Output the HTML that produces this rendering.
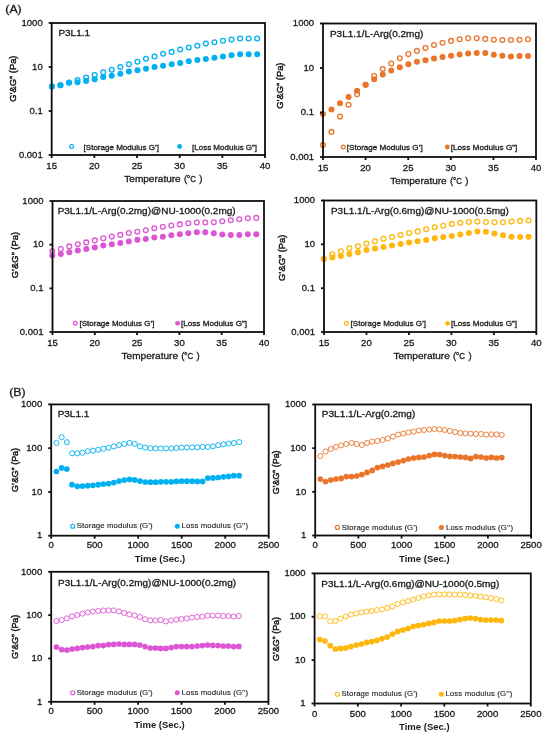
<!DOCTYPE html>
<html><head><meta charset="utf-8"><style>
html,body{margin:0;padding:0;background:#fff;}
body{width:550px;height:739px;overflow:hidden;}
svg{display:block;}
text{font-family:"Liberation Sans", sans-serif;fill:#1a1a1a;stroke:#1a1a1a;stroke-width:0.3px;}
</style></head><body>
<svg width="550" height="739" viewBox="0 0 550 739">
<defs><filter id="bl" filterUnits="userSpaceOnUse" x="0" y="0" width="550" height="739"><feGaussianBlur stdDeviation="0.45"/></filter></defs>
<rect width="550" height="739" fill="#fff"/>
<g filter="url(#bl)">
<circle cx="51.90" cy="86.50" r="2.4" fill="#fff" stroke="#00B0F0" stroke-width="1.3"/>
<circle cx="60.45" cy="85.20" r="2.4" fill="#fff" stroke="#00B0F0" stroke-width="1.3"/>
<circle cx="69.01" cy="82.50" r="2.4" fill="#fff" stroke="#00B0F0" stroke-width="1.3"/>
<circle cx="77.56" cy="80.00" r="2.4" fill="#fff" stroke="#00B0F0" stroke-width="1.3"/>
<circle cx="86.12" cy="77.50" r="2.4" fill="#fff" stroke="#00B0F0" stroke-width="1.3"/>
<circle cx="94.67" cy="75.00" r="2.4" fill="#fff" stroke="#00B0F0" stroke-width="1.3"/>
<circle cx="103.22" cy="72.30" r="2.4" fill="#fff" stroke="#00B0F0" stroke-width="1.3"/>
<circle cx="111.78" cy="69.80" r="2.4" fill="#fff" stroke="#00B0F0" stroke-width="1.3"/>
<circle cx="120.33" cy="67.00" r="2.4" fill="#fff" stroke="#00B0F0" stroke-width="1.3"/>
<circle cx="128.89" cy="64.30" r="2.4" fill="#fff" stroke="#00B0F0" stroke-width="1.3"/>
<circle cx="137.44" cy="61.80" r="2.4" fill="#fff" stroke="#00B0F0" stroke-width="1.3"/>
<circle cx="145.99" cy="58.70" r="2.4" fill="#fff" stroke="#00B0F0" stroke-width="1.3"/>
<circle cx="154.55" cy="56.50" r="2.4" fill="#fff" stroke="#00B0F0" stroke-width="1.3"/>
<circle cx="163.10" cy="53.80" r="2.4" fill="#fff" stroke="#00B0F0" stroke-width="1.3"/>
<circle cx="171.66" cy="51.90" r="2.4" fill="#fff" stroke="#00B0F0" stroke-width="1.3"/>
<circle cx="180.21" cy="49.50" r="2.4" fill="#fff" stroke="#00B0F0" stroke-width="1.3"/>
<circle cx="188.76" cy="47.50" r="2.4" fill="#fff" stroke="#00B0F0" stroke-width="1.3"/>
<circle cx="197.32" cy="45.70" r="2.4" fill="#fff" stroke="#00B0F0" stroke-width="1.3"/>
<circle cx="205.87" cy="43.60" r="2.4" fill="#fff" stroke="#00B0F0" stroke-width="1.3"/>
<circle cx="214.43" cy="42.30" r="2.4" fill="#fff" stroke="#00B0F0" stroke-width="1.3"/>
<circle cx="222.98" cy="40.70" r="2.4" fill="#fff" stroke="#00B0F0" stroke-width="1.3"/>
<circle cx="231.53" cy="39.60" r="2.4" fill="#fff" stroke="#00B0F0" stroke-width="1.3"/>
<circle cx="240.09" cy="38.50" r="2.4" fill="#fff" stroke="#00B0F0" stroke-width="1.3"/>
<circle cx="248.64" cy="38.50" r="2.4" fill="#fff" stroke="#00B0F0" stroke-width="1.3"/>
<circle cx="257.20" cy="38.50" r="2.4" fill="#fff" stroke="#00B0F0" stroke-width="1.3"/>
<circle cx="51.90" cy="86.50" r="3.0" fill="#00B0F0"/>
<circle cx="60.45" cy="85.20" r="3.0" fill="#00B0F0"/>
<circle cx="69.01" cy="82.70" r="3.0" fill="#00B0F0"/>
<circle cx="77.56" cy="82.30" r="3.0" fill="#00B0F0"/>
<circle cx="86.12" cy="81.00" r="3.0" fill="#00B0F0"/>
<circle cx="94.67" cy="79.20" r="3.0" fill="#00B0F0"/>
<circle cx="103.22" cy="77.10" r="3.0" fill="#00B0F0"/>
<circle cx="111.78" cy="75.80" r="3.0" fill="#00B0F0"/>
<circle cx="120.33" cy="73.70" r="3.0" fill="#00B0F0"/>
<circle cx="128.89" cy="71.60" r="3.0" fill="#00B0F0"/>
<circle cx="137.44" cy="70.20" r="3.0" fill="#00B0F0"/>
<circle cx="145.99" cy="68.70" r="3.0" fill="#00B0F0"/>
<circle cx="154.55" cy="67.00" r="3.0" fill="#00B0F0"/>
<circle cx="163.10" cy="65.80" r="3.0" fill="#00B0F0"/>
<circle cx="171.66" cy="64.30" r="3.0" fill="#00B0F0"/>
<circle cx="180.21" cy="63.00" r="3.0" fill="#00B0F0"/>
<circle cx="188.76" cy="61.20" r="3.0" fill="#00B0F0"/>
<circle cx="197.32" cy="60.10" r="3.0" fill="#00B0F0"/>
<circle cx="205.87" cy="59.00" r="3.0" fill="#00B0F0"/>
<circle cx="214.43" cy="57.70" r="3.0" fill="#00B0F0"/>
<circle cx="222.98" cy="56.40" r="3.0" fill="#00B0F0"/>
<circle cx="231.53" cy="55.30" r="3.0" fill="#00B0F0"/>
<circle cx="240.09" cy="54.30" r="3.0" fill="#00B0F0"/>
<circle cx="248.64" cy="54.30" r="3.0" fill="#00B0F0"/>
<circle cx="257.20" cy="54.30" r="3.0" fill="#00B0F0"/>
<rect x="51.7" y="23" width="213.30" height="132.00" fill="none" stroke="#111" stroke-width="1.8"/>
<line x1="51.70" y1="155" x2="51.70" y2="158" stroke="#111" stroke-width="1.8"/>
<line x1="94.36" y1="155" x2="94.36" y2="158" stroke="#111" stroke-width="1.8"/>
<line x1="137.02" y1="155" x2="137.02" y2="158" stroke="#111" stroke-width="1.8"/>
<line x1="179.68" y1="155" x2="179.68" y2="158" stroke="#111" stroke-width="1.8"/>
<line x1="222.34" y1="155" x2="222.34" y2="158" stroke="#111" stroke-width="1.8"/>
<line x1="265.00" y1="155" x2="265.00" y2="158" stroke="#111" stroke-width="1.8"/>
<line x1="48.7" y1="23.00" x2="51.7" y2="23.00" stroke="#111" stroke-width="1.8"/>
<line x1="48.7" y1="67.00" x2="51.7" y2="67.00" stroke="#111" stroke-width="1.8"/>
<line x1="48.7" y1="111.00" x2="51.7" y2="111.00" stroke="#111" stroke-width="1.8"/>
<line x1="48.7" y1="155.00" x2="51.7" y2="155.00" stroke="#111" stroke-width="1.8"/>
<text x="42.70" y="25.70" font-size="9.5" text-anchor="end" font-weight="normal">1000</text>
<text x="42.70" y="69.70" font-size="9.5" text-anchor="end" font-weight="normal">10</text>
<text x="42.70" y="113.70" font-size="9.5" text-anchor="end" font-weight="normal">0.1</text>
<text x="42.70" y="157.70" font-size="9.5" text-anchor="end" font-weight="normal">0.001</text>
<text x="51.70" y="168.70" font-size="9.6" text-anchor="middle" font-weight="normal">15</text>
<text x="94.36" y="168.70" font-size="9.6" text-anchor="middle" font-weight="normal">20</text>
<text x="137.02" y="168.70" font-size="9.6" text-anchor="middle" font-weight="normal">25</text>
<text x="179.68" y="168.70" font-size="9.6" text-anchor="middle" font-weight="normal">30</text>
<text x="222.34" y="168.70" font-size="9.6" text-anchor="middle" font-weight="normal">35</text>
<text x="265.00" y="168.70" font-size="9.6" text-anchor="middle" font-weight="normal">40</text>
<text x="124.30" y="181.80" font-size="9.6" text-anchor="start" font-weight="normal" textLength="56.4" lengthAdjust="spacingAndGlyphs">Temperature</text>
<text x="184.00" y="181.80" font-size="9.6" text-anchor="start" font-weight="normal">(</text>
<text x="186.70" y="181.80" font-size="9.0" text-anchor="start" font-weight="normal">°</text>
<text x="190.20" y="181.80" font-size="9.6" text-anchor="start" font-weight="normal" textLength="5.7" lengthAdjust="spacingAndGlyphs">C</text>
<text x="199.30" y="181.80" font-size="9.6" text-anchor="start" font-weight="normal">)</text>
<text transform="translate(15.7,78.7) rotate(-90)" x="0" y="0" font-size="9.4" text-anchor="middle" style="stroke-width:0.45px">G’&amp;G” (Pa)</text>
<text x="58.40" y="36.20" font-size="9.3" text-anchor="start" font-weight="normal" textLength="31.69" lengthAdjust="spacingAndGlyphs">P3L1.1</text>
<circle cx="71.6" cy="146.5" r="1.9" fill="#fff" stroke="#00B0F0" stroke-width="1.2"/>
<text x="83.60" y="149.50" font-size="7.9" text-anchor="start" font-weight="normal" textLength="75.4" lengthAdjust="spacingAndGlyphs">[Storage Modulus G’]</text>
<circle cx="179.6" cy="146.5" r="2.4" fill="#00B0F0"/>
<text x="192.00" y="149.50" font-size="7.9" text-anchor="start" font-weight="normal" textLength="65" lengthAdjust="spacingAndGlyphs">[Loss Modulus G”]</text>
<circle cx="322.90" cy="145.00" r="2.4" fill="#fff" stroke="#EA742B" stroke-width="1.3"/>
<circle cx="331.45" cy="131.90" r="2.4" fill="#fff" stroke="#EA742B" stroke-width="1.3"/>
<circle cx="339.99" cy="116.60" r="2.4" fill="#fff" stroke="#EA742B" stroke-width="1.3"/>
<circle cx="348.54" cy="104.70" r="2.4" fill="#fff" stroke="#EA742B" stroke-width="1.3"/>
<circle cx="357.08" cy="94.20" r="2.4" fill="#fff" stroke="#EA742B" stroke-width="1.3"/>
<circle cx="365.63" cy="84.80" r="2.4" fill="#fff" stroke="#EA742B" stroke-width="1.3"/>
<circle cx="374.18" cy="76.00" r="2.4" fill="#fff" stroke="#EA742B" stroke-width="1.3"/>
<circle cx="382.72" cy="69.10" r="2.4" fill="#fff" stroke="#EA742B" stroke-width="1.3"/>
<circle cx="391.27" cy="63.50" r="2.4" fill="#fff" stroke="#EA742B" stroke-width="1.3"/>
<circle cx="399.81" cy="58.30" r="2.4" fill="#fff" stroke="#EA742B" stroke-width="1.3"/>
<circle cx="408.36" cy="54.10" r="2.4" fill="#fff" stroke="#EA742B" stroke-width="1.3"/>
<circle cx="416.91" cy="50.90" r="2.4" fill="#fff" stroke="#EA742B" stroke-width="1.3"/>
<circle cx="425.45" cy="48.10" r="2.4" fill="#fff" stroke="#EA742B" stroke-width="1.3"/>
<circle cx="434.00" cy="45.00" r="2.4" fill="#fff" stroke="#EA742B" stroke-width="1.3"/>
<circle cx="442.54" cy="42.70" r="2.4" fill="#fff" stroke="#EA742B" stroke-width="1.3"/>
<circle cx="451.09" cy="40.90" r="2.4" fill="#fff" stroke="#EA742B" stroke-width="1.3"/>
<circle cx="459.64" cy="39.30" r="2.4" fill="#fff" stroke="#EA742B" stroke-width="1.3"/>
<circle cx="468.18" cy="38.20" r="2.4" fill="#fff" stroke="#EA742B" stroke-width="1.3"/>
<circle cx="476.73" cy="38.20" r="2.4" fill="#fff" stroke="#EA742B" stroke-width="1.3"/>
<circle cx="485.27" cy="38.90" r="2.4" fill="#fff" stroke="#EA742B" stroke-width="1.3"/>
<circle cx="493.82" cy="39.80" r="2.4" fill="#fff" stroke="#EA742B" stroke-width="1.3"/>
<circle cx="502.37" cy="40.00" r="2.4" fill="#fff" stroke="#EA742B" stroke-width="1.3"/>
<circle cx="510.91" cy="40.00" r="2.4" fill="#fff" stroke="#EA742B" stroke-width="1.3"/>
<circle cx="519.46" cy="39.80" r="2.4" fill="#fff" stroke="#EA742B" stroke-width="1.3"/>
<circle cx="528.00" cy="39.30" r="2.4" fill="#fff" stroke="#EA742B" stroke-width="1.3"/>
<circle cx="322.90" cy="114.10" r="3.0" fill="#EA742B"/>
<circle cx="331.45" cy="109.50" r="3.0" fill="#EA742B"/>
<circle cx="339.99" cy="103.20" r="3.0" fill="#EA742B"/>
<circle cx="348.54" cy="96.90" r="3.0" fill="#EA742B"/>
<circle cx="357.08" cy="90.70" r="3.0" fill="#EA742B"/>
<circle cx="365.63" cy="84.80" r="3.0" fill="#EA742B"/>
<circle cx="374.18" cy="79.20" r="3.0" fill="#EA742B"/>
<circle cx="382.72" cy="74.40" r="3.0" fill="#EA742B"/>
<circle cx="391.27" cy="70.60" r="3.0" fill="#EA742B"/>
<circle cx="399.81" cy="67.30" r="3.0" fill="#EA742B"/>
<circle cx="408.36" cy="64.30" r="3.0" fill="#EA742B"/>
<circle cx="416.91" cy="61.80" r="3.0" fill="#EA742B"/>
<circle cx="425.45" cy="60.30" r="3.0" fill="#EA742B"/>
<circle cx="434.00" cy="58.60" r="3.0" fill="#EA742B"/>
<circle cx="442.54" cy="57.00" r="3.0" fill="#EA742B"/>
<circle cx="451.09" cy="55.70" r="3.0" fill="#EA742B"/>
<circle cx="459.64" cy="54.50" r="3.0" fill="#EA742B"/>
<circle cx="468.18" cy="53.40" r="3.0" fill="#EA742B"/>
<circle cx="476.73" cy="53.00" r="3.0" fill="#EA742B"/>
<circle cx="485.27" cy="53.00" r="3.0" fill="#EA742B"/>
<circle cx="493.82" cy="54.80" r="3.0" fill="#EA742B"/>
<circle cx="502.37" cy="55.70" r="3.0" fill="#EA742B"/>
<circle cx="510.91" cy="56.40" r="3.0" fill="#EA742B"/>
<circle cx="519.46" cy="55.90" r="3.0" fill="#EA742B"/>
<circle cx="528.00" cy="55.90" r="3.0" fill="#EA742B"/>
<rect x="323" y="23.5" width="213.00" height="133.50" fill="none" stroke="#111" stroke-width="1.8"/>
<line x1="323.00" y1="157" x2="323.00" y2="160" stroke="#111" stroke-width="1.8"/>
<line x1="365.60" y1="157" x2="365.60" y2="160" stroke="#111" stroke-width="1.8"/>
<line x1="408.20" y1="157" x2="408.20" y2="160" stroke="#111" stroke-width="1.8"/>
<line x1="450.80" y1="157" x2="450.80" y2="160" stroke="#111" stroke-width="1.8"/>
<line x1="493.40" y1="157" x2="493.40" y2="160" stroke="#111" stroke-width="1.8"/>
<line x1="536.00" y1="157" x2="536.00" y2="160" stroke="#111" stroke-width="1.8"/>
<line x1="320" y1="23.50" x2="323" y2="23.50" stroke="#111" stroke-width="1.8"/>
<line x1="320" y1="68.00" x2="323" y2="68.00" stroke="#111" stroke-width="1.8"/>
<line x1="320" y1="112.50" x2="323" y2="112.50" stroke="#111" stroke-width="1.8"/>
<line x1="320" y1="157.00" x2="323" y2="157.00" stroke="#111" stroke-width="1.8"/>
<text x="314.00" y="26.20" font-size="9.5" text-anchor="end" font-weight="normal">1000</text>
<text x="314.00" y="70.70" font-size="9.5" text-anchor="end" font-weight="normal">10</text>
<text x="314.00" y="115.20" font-size="9.5" text-anchor="end" font-weight="normal">0.1</text>
<text x="314.00" y="159.70" font-size="9.5" text-anchor="end" font-weight="normal">0.001</text>
<text x="323.00" y="170.70" font-size="9.6" text-anchor="middle" font-weight="normal">15</text>
<text x="365.60" y="170.70" font-size="9.6" text-anchor="middle" font-weight="normal">20</text>
<text x="408.20" y="170.70" font-size="9.6" text-anchor="middle" font-weight="normal">25</text>
<text x="450.80" y="170.70" font-size="9.6" text-anchor="middle" font-weight="normal">30</text>
<text x="493.40" y="170.70" font-size="9.6" text-anchor="middle" font-weight="normal">35</text>
<text x="536.00" y="170.70" font-size="9.6" text-anchor="middle" font-weight="normal">40</text>
<text x="390.30" y="183.80" font-size="9.6" text-anchor="start" font-weight="normal" textLength="56.4" lengthAdjust="spacingAndGlyphs">Temperature</text>
<text x="450.00" y="183.80" font-size="9.6" text-anchor="start" font-weight="normal">(</text>
<text x="452.70" y="183.80" font-size="9.0" text-anchor="start" font-weight="normal">°</text>
<text x="456.20" y="183.80" font-size="9.6" text-anchor="start" font-weight="normal" textLength="5.7" lengthAdjust="spacingAndGlyphs">C</text>
<text x="465.30" y="183.80" font-size="9.6" text-anchor="start" font-weight="normal">)</text>
<text transform="translate(283.4,85.7) rotate(-90)" x="0" y="0" font-size="9.4" text-anchor="middle" style="stroke-width:0.45px">G’&amp;G” (Pa)</text>
<text x="329.95" y="37.10" font-size="9.3" text-anchor="start" font-weight="normal" textLength="93.38" lengthAdjust="spacingAndGlyphs">P3L1.1/L-Arg(0.2mg)</text>
<circle cx="343.3" cy="147.0" r="1.9" fill="#fff" stroke="#EA742B" stroke-width="1.2"/>
<text x="346.80" y="150.00" font-size="7.9" text-anchor="start" font-weight="normal" textLength="75.9" lengthAdjust="spacingAndGlyphs">[Storage Modulus G’]</text>
<circle cx="447.3" cy="147.0" r="2.4" fill="#EA742B"/>
<text x="450.70" y="150.00" font-size="7.9" text-anchor="start" font-weight="normal" textLength="66.6" lengthAdjust="spacingAndGlyphs">[Loss Modulus G”]</text>
<circle cx="52.30" cy="251.20" r="2.4" fill="#fff" stroke="#DC55D4" stroke-width="1.3"/>
<circle cx="60.80" cy="249.10" r="2.4" fill="#fff" stroke="#DC55D4" stroke-width="1.3"/>
<circle cx="69.30" cy="246.40" r="2.4" fill="#fff" stroke="#DC55D4" stroke-width="1.3"/>
<circle cx="77.80" cy="244.30" r="2.4" fill="#fff" stroke="#DC55D4" stroke-width="1.3"/>
<circle cx="86.30" cy="242.40" r="2.4" fill="#fff" stroke="#DC55D4" stroke-width="1.3"/>
<circle cx="94.80" cy="240.40" r="2.4" fill="#fff" stroke="#DC55D4" stroke-width="1.3"/>
<circle cx="103.30" cy="238.30" r="2.4" fill="#fff" stroke="#DC55D4" stroke-width="1.3"/>
<circle cx="111.80" cy="236.60" r="2.4" fill="#fff" stroke="#DC55D4" stroke-width="1.3"/>
<circle cx="120.30" cy="234.90" r="2.4" fill="#fff" stroke="#DC55D4" stroke-width="1.3"/>
<circle cx="128.80" cy="233.00" r="2.4" fill="#fff" stroke="#DC55D4" stroke-width="1.3"/>
<circle cx="137.30" cy="231.80" r="2.4" fill="#fff" stroke="#DC55D4" stroke-width="1.3"/>
<circle cx="145.80" cy="230.30" r="2.4" fill="#fff" stroke="#DC55D4" stroke-width="1.3"/>
<circle cx="154.30" cy="228.20" r="2.4" fill="#fff" stroke="#DC55D4" stroke-width="1.3"/>
<circle cx="162.80" cy="226.80" r="2.4" fill="#fff" stroke="#DC55D4" stroke-width="1.3"/>
<circle cx="171.30" cy="225.50" r="2.4" fill="#fff" stroke="#DC55D4" stroke-width="1.3"/>
<circle cx="179.80" cy="224.40" r="2.4" fill="#fff" stroke="#DC55D4" stroke-width="1.3"/>
<circle cx="188.30" cy="223.30" r="2.4" fill="#fff" stroke="#DC55D4" stroke-width="1.3"/>
<circle cx="196.80" cy="222.50" r="2.4" fill="#fff" stroke="#DC55D4" stroke-width="1.3"/>
<circle cx="205.30" cy="222.50" r="2.4" fill="#fff" stroke="#DC55D4" stroke-width="1.3"/>
<circle cx="213.80" cy="222.30" r="2.4" fill="#fff" stroke="#DC55D4" stroke-width="1.3"/>
<circle cx="222.30" cy="221.20" r="2.4" fill="#fff" stroke="#DC55D4" stroke-width="1.3"/>
<circle cx="230.80" cy="220.30" r="2.4" fill="#fff" stroke="#DC55D4" stroke-width="1.3"/>
<circle cx="239.30" cy="219.20" r="2.4" fill="#fff" stroke="#DC55D4" stroke-width="1.3"/>
<circle cx="247.80" cy="218.30" r="2.4" fill="#fff" stroke="#DC55D4" stroke-width="1.3"/>
<circle cx="256.30" cy="217.90" r="2.4" fill="#fff" stroke="#DC55D4" stroke-width="1.3"/>
<circle cx="52.30" cy="255.40" r="3.0" fill="#DC55D4"/>
<circle cx="60.80" cy="253.90" r="3.0" fill="#DC55D4"/>
<circle cx="69.30" cy="252.30" r="3.0" fill="#DC55D4"/>
<circle cx="77.80" cy="250.60" r="3.0" fill="#DC55D4"/>
<circle cx="86.30" cy="249.10" r="3.0" fill="#DC55D4"/>
<circle cx="94.80" cy="247.50" r="3.0" fill="#DC55D4"/>
<circle cx="103.30" cy="245.60" r="3.0" fill="#DC55D4"/>
<circle cx="111.80" cy="244.30" r="3.0" fill="#DC55D4"/>
<circle cx="120.30" cy="242.90" r="3.0" fill="#DC55D4"/>
<circle cx="128.80" cy="241.40" r="3.0" fill="#DC55D4"/>
<circle cx="137.30" cy="239.70" r="3.0" fill="#DC55D4"/>
<circle cx="145.80" cy="239.10" r="3.0" fill="#DC55D4"/>
<circle cx="154.30" cy="237.60" r="3.0" fill="#DC55D4"/>
<circle cx="162.80" cy="236.70" r="3.0" fill="#DC55D4"/>
<circle cx="171.30" cy="235.30" r="3.0" fill="#DC55D4"/>
<circle cx="179.80" cy="234.30" r="3.0" fill="#DC55D4"/>
<circle cx="188.30" cy="233.20" r="3.0" fill="#DC55D4"/>
<circle cx="196.80" cy="232.30" r="3.0" fill="#DC55D4"/>
<circle cx="205.30" cy="232.30" r="3.0" fill="#DC55D4"/>
<circle cx="213.80" cy="233.20" r="3.0" fill="#DC55D4"/>
<circle cx="222.30" cy="234.50" r="3.0" fill="#DC55D4"/>
<circle cx="230.80" cy="234.90" r="3.0" fill="#DC55D4"/>
<circle cx="239.30" cy="234.90" r="3.0" fill="#DC55D4"/>
<circle cx="247.80" cy="234.30" r="3.0" fill="#DC55D4"/>
<circle cx="256.30" cy="234.30" r="3.0" fill="#DC55D4"/>
<rect x="52.5" y="201" width="211.50" height="131.00" fill="none" stroke="#111" stroke-width="1.8"/>
<line x1="52.50" y1="332" x2="52.50" y2="335" stroke="#111" stroke-width="1.8"/>
<line x1="94.80" y1="332" x2="94.80" y2="335" stroke="#111" stroke-width="1.8"/>
<line x1="137.10" y1="332" x2="137.10" y2="335" stroke="#111" stroke-width="1.8"/>
<line x1="179.40" y1="332" x2="179.40" y2="335" stroke="#111" stroke-width="1.8"/>
<line x1="221.70" y1="332" x2="221.70" y2="335" stroke="#111" stroke-width="1.8"/>
<line x1="264.00" y1="332" x2="264.00" y2="335" stroke="#111" stroke-width="1.8"/>
<line x1="49.5" y1="201.00" x2="52.5" y2="201.00" stroke="#111" stroke-width="1.8"/>
<line x1="49.5" y1="244.67" x2="52.5" y2="244.67" stroke="#111" stroke-width="1.8"/>
<line x1="49.5" y1="288.33" x2="52.5" y2="288.33" stroke="#111" stroke-width="1.8"/>
<line x1="49.5" y1="332.00" x2="52.5" y2="332.00" stroke="#111" stroke-width="1.8"/>
<text x="43.50" y="203.70" font-size="9.5" text-anchor="end" font-weight="normal">1000</text>
<text x="43.50" y="247.37" font-size="9.5" text-anchor="end" font-weight="normal">10</text>
<text x="43.50" y="291.03" font-size="9.5" text-anchor="end" font-weight="normal">0.1</text>
<text x="43.50" y="334.70" font-size="9.5" text-anchor="end" font-weight="normal">0.001</text>
<text x="52.50" y="345.70" font-size="9.6" text-anchor="middle" font-weight="normal">15</text>
<text x="94.80" y="345.70" font-size="9.6" text-anchor="middle" font-weight="normal">20</text>
<text x="137.10" y="345.70" font-size="9.6" text-anchor="middle" font-weight="normal">25</text>
<text x="179.40" y="345.70" font-size="9.6" text-anchor="middle" font-weight="normal">30</text>
<text x="221.70" y="345.70" font-size="9.6" text-anchor="middle" font-weight="normal">35</text>
<text x="264.00" y="345.70" font-size="9.6" text-anchor="middle" font-weight="normal">40</text>
<text x="121.60" y="358.80" font-size="9.6" text-anchor="start" font-weight="normal" textLength="56.4" lengthAdjust="spacingAndGlyphs">Temperature</text>
<text x="181.30" y="358.80" font-size="9.6" text-anchor="start" font-weight="normal">(</text>
<text x="184.00" y="358.80" font-size="9.0" text-anchor="start" font-weight="normal">°</text>
<text x="187.50" y="358.80" font-size="9.6" text-anchor="start" font-weight="normal" textLength="5.7" lengthAdjust="spacingAndGlyphs">C</text>
<text x="196.60" y="358.80" font-size="9.6" text-anchor="start" font-weight="normal">)</text>
<text transform="translate(17.5,255.1) rotate(-90)" x="0" y="0" font-size="9.4" text-anchor="middle" style="stroke-width:0.45px">G’&amp;G” (Pa)</text>
<text x="57.65" y="213.70" font-size="9.3" text-anchor="start" font-weight="normal" textLength="178.0" lengthAdjust="spacingAndGlyphs">P3L1.1/L-Arg(0.2mg)@NU-1000(0.2mg)</text>
<circle cx="75.3" cy="323.3" r="1.9" fill="#fff" stroke="#DC55D4" stroke-width="1.2"/>
<text x="79.60" y="326.30" font-size="7.9" text-anchor="start" font-weight="normal" textLength="74.8" lengthAdjust="spacingAndGlyphs">[Storage Modulus G’]</text>
<circle cx="177.6" cy="323.3" r="2.4" fill="#DC55D4"/>
<text x="181.00" y="326.30" font-size="7.9" text-anchor="start" font-weight="normal" textLength="66" lengthAdjust="spacingAndGlyphs">[Loss Modulus G”]</text>
<circle cx="323.80" cy="258.90" r="2.4" fill="#fff" stroke="#FFB70A" stroke-width="1.3"/>
<circle cx="332.33" cy="254.20" r="2.4" fill="#fff" stroke="#FFB70A" stroke-width="1.3"/>
<circle cx="340.87" cy="251.30" r="2.4" fill="#fff" stroke="#FFB70A" stroke-width="1.3"/>
<circle cx="349.40" cy="248.30" r="2.4" fill="#fff" stroke="#FFB70A" stroke-width="1.3"/>
<circle cx="357.93" cy="246.20" r="2.4" fill="#fff" stroke="#FFB70A" stroke-width="1.3"/>
<circle cx="366.47" cy="243.60" r="2.4" fill="#fff" stroke="#FFB70A" stroke-width="1.3"/>
<circle cx="375.00" cy="241.20" r="2.4" fill="#fff" stroke="#FFB70A" stroke-width="1.3"/>
<circle cx="383.53" cy="238.70" r="2.4" fill="#fff" stroke="#FFB70A" stroke-width="1.3"/>
<circle cx="392.06" cy="237.00" r="2.4" fill="#fff" stroke="#FFB70A" stroke-width="1.3"/>
<circle cx="400.60" cy="235.10" r="2.4" fill="#fff" stroke="#FFB70A" stroke-width="1.3"/>
<circle cx="409.13" cy="233.00" r="2.4" fill="#fff" stroke="#FFB70A" stroke-width="1.3"/>
<circle cx="417.66" cy="231.40" r="2.4" fill="#fff" stroke="#FFB70A" stroke-width="1.3"/>
<circle cx="426.20" cy="229.20" r="2.4" fill="#fff" stroke="#FFB70A" stroke-width="1.3"/>
<circle cx="434.73" cy="227.30" r="2.4" fill="#fff" stroke="#FFB70A" stroke-width="1.3"/>
<circle cx="443.26" cy="225.70" r="2.4" fill="#fff" stroke="#FFB70A" stroke-width="1.3"/>
<circle cx="451.80" cy="223.90" r="2.4" fill="#fff" stroke="#FFB70A" stroke-width="1.3"/>
<circle cx="460.33" cy="222.70" r="2.4" fill="#fff" stroke="#FFB70A" stroke-width="1.3"/>
<circle cx="468.86" cy="222.00" r="2.4" fill="#fff" stroke="#FFB70A" stroke-width="1.3"/>
<circle cx="477.39" cy="221.60" r="2.4" fill="#fff" stroke="#FFB70A" stroke-width="1.3"/>
<circle cx="485.93" cy="222.00" r="2.4" fill="#fff" stroke="#FFB70A" stroke-width="1.3"/>
<circle cx="494.46" cy="222.30" r="2.4" fill="#fff" stroke="#FFB70A" stroke-width="1.3"/>
<circle cx="502.99" cy="222.30" r="2.4" fill="#fff" stroke="#FFB70A" stroke-width="1.3"/>
<circle cx="511.53" cy="221.60" r="2.4" fill="#fff" stroke="#FFB70A" stroke-width="1.3"/>
<circle cx="520.06" cy="220.90" r="2.4" fill="#fff" stroke="#FFB70A" stroke-width="1.3"/>
<circle cx="528.59" cy="220.50" r="2.4" fill="#fff" stroke="#FFB70A" stroke-width="1.3"/>
<circle cx="323.80" cy="258.90" r="3.0" fill="#FFB70A"/>
<circle cx="332.33" cy="257.60" r="3.0" fill="#FFB70A"/>
<circle cx="340.87" cy="255.90" r="3.0" fill="#FFB70A"/>
<circle cx="349.40" cy="253.90" r="3.0" fill="#FFB70A"/>
<circle cx="357.93" cy="252.20" r="3.0" fill="#FFB70A"/>
<circle cx="366.47" cy="250.10" r="3.0" fill="#FFB70A"/>
<circle cx="375.00" cy="248.50" r="3.0" fill="#FFB70A"/>
<circle cx="383.53" cy="247.00" r="3.0" fill="#FFB70A"/>
<circle cx="392.06" cy="245.60" r="3.0" fill="#FFB70A"/>
<circle cx="400.60" cy="243.90" r="3.0" fill="#FFB70A"/>
<circle cx="409.13" cy="242.40" r="3.0" fill="#FFB70A"/>
<circle cx="417.66" cy="241.20" r="3.0" fill="#FFB70A"/>
<circle cx="426.20" cy="240.10" r="3.0" fill="#FFB70A"/>
<circle cx="434.73" cy="238.20" r="3.0" fill="#FFB70A"/>
<circle cx="443.26" cy="237.00" r="3.0" fill="#FFB70A"/>
<circle cx="451.80" cy="235.90" r="3.0" fill="#FFB70A"/>
<circle cx="460.33" cy="234.50" r="3.0" fill="#FFB70A"/>
<circle cx="468.86" cy="233.00" r="3.0" fill="#FFB70A"/>
<circle cx="477.39" cy="231.40" r="3.0" fill="#FFB70A"/>
<circle cx="485.93" cy="231.80" r="3.0" fill="#FFB70A"/>
<circle cx="494.46" cy="233.60" r="3.0" fill="#FFB70A"/>
<circle cx="502.99" cy="235.20" r="3.0" fill="#FFB70A"/>
<circle cx="511.53" cy="236.80" r="3.0" fill="#FFB70A"/>
<circle cx="520.06" cy="237.00" r="3.0" fill="#FFB70A"/>
<circle cx="528.59" cy="236.80" r="3.0" fill="#FFB70A"/>
<rect x="324" y="200.5" width="212.30" height="131.50" fill="none" stroke="#111" stroke-width="1.8"/>
<line x1="324.00" y1="332" x2="324.00" y2="335" stroke="#111" stroke-width="1.8"/>
<line x1="366.46" y1="332" x2="366.46" y2="335" stroke="#111" stroke-width="1.8"/>
<line x1="408.92" y1="332" x2="408.92" y2="335" stroke="#111" stroke-width="1.8"/>
<line x1="451.38" y1="332" x2="451.38" y2="335" stroke="#111" stroke-width="1.8"/>
<line x1="493.84" y1="332" x2="493.84" y2="335" stroke="#111" stroke-width="1.8"/>
<line x1="536.30" y1="332" x2="536.30" y2="335" stroke="#111" stroke-width="1.8"/>
<line x1="321" y1="200.50" x2="324" y2="200.50" stroke="#111" stroke-width="1.8"/>
<line x1="321" y1="244.33" x2="324" y2="244.33" stroke="#111" stroke-width="1.8"/>
<line x1="321" y1="288.17" x2="324" y2="288.17" stroke="#111" stroke-width="1.8"/>
<line x1="321" y1="332.00" x2="324" y2="332.00" stroke="#111" stroke-width="1.8"/>
<text x="315.00" y="203.20" font-size="9.5" text-anchor="end" font-weight="normal">1000</text>
<text x="315.00" y="247.03" font-size="9.5" text-anchor="end" font-weight="normal">10</text>
<text x="315.00" y="290.87" font-size="9.5" text-anchor="end" font-weight="normal">0.1</text>
<text x="315.00" y="334.70" font-size="9.5" text-anchor="end" font-weight="normal">0.001</text>
<text x="324.00" y="345.70" font-size="9.6" text-anchor="middle" font-weight="normal">15</text>
<text x="366.46" y="345.70" font-size="9.6" text-anchor="middle" font-weight="normal">20</text>
<text x="408.92" y="345.70" font-size="9.6" text-anchor="middle" font-weight="normal">25</text>
<text x="451.38" y="345.70" font-size="9.6" text-anchor="middle" font-weight="normal">30</text>
<text x="493.84" y="345.70" font-size="9.6" text-anchor="middle" font-weight="normal">35</text>
<text x="536.30" y="345.70" font-size="9.6" text-anchor="middle" font-weight="normal">40</text>
<text x="393.40" y="358.80" font-size="9.6" text-anchor="start" font-weight="normal" textLength="56.4" lengthAdjust="spacingAndGlyphs">Temperature</text>
<text x="453.10" y="358.80" font-size="9.6" text-anchor="start" font-weight="normal">(</text>
<text x="455.80" y="358.80" font-size="9.0" text-anchor="start" font-weight="normal">°</text>
<text x="459.30" y="358.80" font-size="9.6" text-anchor="start" font-weight="normal" textLength="5.7" lengthAdjust="spacingAndGlyphs">C</text>
<text x="468.40" y="358.80" font-size="9.6" text-anchor="start" font-weight="normal">)</text>
<text transform="translate(284.5,257.8) rotate(-90)" x="0" y="0" font-size="9.4" text-anchor="middle" style="stroke-width:0.45px">G’&amp;G” (Pa)</text>
<text x="330.95" y="214.40" font-size="9.3" text-anchor="start" font-weight="normal" textLength="178.0" lengthAdjust="spacingAndGlyphs">P3L1.1/L-Arg(0.6mg)@NU-1000(0.5mg)</text>
<circle cx="346.4" cy="323.3" r="1.9" fill="#fff" stroke="#FFB70A" stroke-width="1.2"/>
<text x="350.60" y="326.30" font-size="7.9" text-anchor="start" font-weight="normal" textLength="75.4" lengthAdjust="spacingAndGlyphs">[Storage Modulus G’]</text>
<circle cx="447.6" cy="323.3" r="2.4" fill="#FFB70A"/>
<text x="451.00" y="326.30" font-size="7.9" text-anchor="start" font-weight="normal" textLength="66" lengthAdjust="spacingAndGlyphs">[Loss Modulus G”]</text>
<circle cx="56.42" cy="442.90" r="2.55" fill="#fff" stroke="#00B0F0" stroke-width="0.9"/>
<circle cx="61.64" cy="437.20" r="2.55" fill="#fff" stroke="#00B0F0" stroke-width="0.9"/>
<circle cx="66.86" cy="442.20" r="2.55" fill="#fff" stroke="#00B0F0" stroke-width="0.9"/>
<circle cx="72.08" cy="453.30" r="2.55" fill="#fff" stroke="#00B0F0" stroke-width="0.9"/>
<circle cx="77.30" cy="453.30" r="2.55" fill="#fff" stroke="#00B0F0" stroke-width="0.9"/>
<circle cx="82.52" cy="452.70" r="2.55" fill="#fff" stroke="#00B0F0" stroke-width="0.9"/>
<circle cx="87.74" cy="451.20" r="2.55" fill="#fff" stroke="#00B0F0" stroke-width="0.9"/>
<circle cx="92.96" cy="450.60" r="2.55" fill="#fff" stroke="#00B0F0" stroke-width="0.9"/>
<circle cx="98.18" cy="449.80" r="2.55" fill="#fff" stroke="#00B0F0" stroke-width="0.9"/>
<circle cx="103.40" cy="448.70" r="2.55" fill="#fff" stroke="#00B0F0" stroke-width="0.9"/>
<circle cx="108.62" cy="447.70" r="2.55" fill="#fff" stroke="#00B0F0" stroke-width="0.9"/>
<circle cx="113.84" cy="446.40" r="2.55" fill="#fff" stroke="#00B0F0" stroke-width="0.9"/>
<circle cx="119.06" cy="445.00" r="2.55" fill="#fff" stroke="#00B0F0" stroke-width="0.9"/>
<circle cx="124.28" cy="443.90" r="2.55" fill="#fff" stroke="#00B0F0" stroke-width="0.9"/>
<circle cx="129.50" cy="442.90" r="2.55" fill="#fff" stroke="#00B0F0" stroke-width="0.9"/>
<circle cx="134.72" cy="443.90" r="2.55" fill="#fff" stroke="#00B0F0" stroke-width="0.9"/>
<circle cx="139.94" cy="446.40" r="2.55" fill="#fff" stroke="#00B0F0" stroke-width="0.9"/>
<circle cx="145.16" cy="447.70" r="2.55" fill="#fff" stroke="#00B0F0" stroke-width="0.9"/>
<circle cx="150.38" cy="448.20" r="2.55" fill="#fff" stroke="#00B0F0" stroke-width="0.9"/>
<circle cx="155.60" cy="448.40" r="2.55" fill="#fff" stroke="#00B0F0" stroke-width="0.9"/>
<circle cx="160.82" cy="448.40" r="2.55" fill="#fff" stroke="#00B0F0" stroke-width="0.9"/>
<circle cx="166.04" cy="448.40" r="2.55" fill="#fff" stroke="#00B0F0" stroke-width="0.9"/>
<circle cx="171.26" cy="448.40" r="2.55" fill="#fff" stroke="#00B0F0" stroke-width="0.9"/>
<circle cx="176.48" cy="448.00" r="2.55" fill="#fff" stroke="#00B0F0" stroke-width="0.9"/>
<circle cx="181.70" cy="447.60" r="2.55" fill="#fff" stroke="#00B0F0" stroke-width="0.9"/>
<circle cx="186.92" cy="447.60" r="2.55" fill="#fff" stroke="#00B0F0" stroke-width="0.9"/>
<circle cx="192.14" cy="447.30" r="2.55" fill="#fff" stroke="#00B0F0" stroke-width="0.9"/>
<circle cx="197.36" cy="447.30" r="2.55" fill="#fff" stroke="#00B0F0" stroke-width="0.9"/>
<circle cx="202.58" cy="446.90" r="2.55" fill="#fff" stroke="#00B0F0" stroke-width="0.9"/>
<circle cx="207.80" cy="446.90" r="2.55" fill="#fff" stroke="#00B0F0" stroke-width="0.9"/>
<circle cx="213.02" cy="446.30" r="2.55" fill="#fff" stroke="#00B0F0" stroke-width="0.9"/>
<circle cx="218.24" cy="445.20" r="2.55" fill="#fff" stroke="#00B0F0" stroke-width="0.9"/>
<circle cx="223.46" cy="444.30" r="2.55" fill="#fff" stroke="#00B0F0" stroke-width="0.9"/>
<circle cx="228.68" cy="443.60" r="2.55" fill="#fff" stroke="#00B0F0" stroke-width="0.9"/>
<circle cx="233.90" cy="443.00" r="2.55" fill="#fff" stroke="#00B0F0" stroke-width="0.9"/>
<circle cx="239.12" cy="442.10" r="2.55" fill="#fff" stroke="#00B0F0" stroke-width="0.9"/>
<circle cx="56.42" cy="471.50" r="2.85" fill="#00B0F0"/>
<circle cx="61.64" cy="467.90" r="2.85" fill="#00B0F0"/>
<circle cx="66.86" cy="469.00" r="2.85" fill="#00B0F0"/>
<circle cx="72.08" cy="484.70" r="2.85" fill="#00B0F0"/>
<circle cx="77.30" cy="486.30" r="2.85" fill="#00B0F0"/>
<circle cx="82.52" cy="486.10" r="2.85" fill="#00B0F0"/>
<circle cx="87.74" cy="485.70" r="2.85" fill="#00B0F0"/>
<circle cx="92.96" cy="485.30" r="2.85" fill="#00B0F0"/>
<circle cx="98.18" cy="484.70" r="2.85" fill="#00B0F0"/>
<circle cx="103.40" cy="484.00" r="2.85" fill="#00B0F0"/>
<circle cx="108.62" cy="483.60" r="2.85" fill="#00B0F0"/>
<circle cx="113.84" cy="482.60" r="2.85" fill="#00B0F0"/>
<circle cx="119.06" cy="481.10" r="2.85" fill="#00B0F0"/>
<circle cx="124.28" cy="480.10" r="2.85" fill="#00B0F0"/>
<circle cx="129.50" cy="479.40" r="2.85" fill="#00B0F0"/>
<circle cx="134.72" cy="479.90" r="2.85" fill="#00B0F0"/>
<circle cx="139.94" cy="481.10" r="2.85" fill="#00B0F0"/>
<circle cx="145.16" cy="482.00" r="2.85" fill="#00B0F0"/>
<circle cx="150.38" cy="482.20" r="2.85" fill="#00B0F0"/>
<circle cx="155.60" cy="482.20" r="2.85" fill="#00B0F0"/>
<circle cx="160.82" cy="481.80" r="2.85" fill="#00B0F0"/>
<circle cx="166.04" cy="481.80" r="2.85" fill="#00B0F0"/>
<circle cx="171.26" cy="481.80" r="2.85" fill="#00B0F0"/>
<circle cx="176.48" cy="481.40" r="2.85" fill="#00B0F0"/>
<circle cx="181.70" cy="481.20" r="2.85" fill="#00B0F0"/>
<circle cx="186.92" cy="481.20" r="2.85" fill="#00B0F0"/>
<circle cx="192.14" cy="481.20" r="2.85" fill="#00B0F0"/>
<circle cx="197.36" cy="481.40" r="2.85" fill="#00B0F0"/>
<circle cx="202.58" cy="481.40" r="2.85" fill="#00B0F0"/>
<circle cx="207.80" cy="478.10" r="2.85" fill="#00B0F0"/>
<circle cx="213.02" cy="477.90" r="2.85" fill="#00B0F0"/>
<circle cx="218.24" cy="477.50" r="2.85" fill="#00B0F0"/>
<circle cx="223.46" cy="476.80" r="2.85" fill="#00B0F0"/>
<circle cx="228.68" cy="476.40" r="2.85" fill="#00B0F0"/>
<circle cx="233.90" cy="475.70" r="2.85" fill="#00B0F0"/>
<circle cx="239.12" cy="475.70" r="2.85" fill="#00B0F0"/>
<rect x="51.2" y="404.4" width="217.50" height="131.30" fill="none" stroke="#111" stroke-width="1.8"/>
<line x1="51.20" y1="535.7" x2="51.20" y2="538.7" stroke="#111" stroke-width="1.8"/>
<line x1="94.70" y1="535.7" x2="94.70" y2="538.7" stroke="#111" stroke-width="1.8"/>
<line x1="138.20" y1="535.7" x2="138.20" y2="538.7" stroke="#111" stroke-width="1.8"/>
<line x1="181.70" y1="535.7" x2="181.70" y2="538.7" stroke="#111" stroke-width="1.8"/>
<line x1="225.20" y1="535.7" x2="225.20" y2="538.7" stroke="#111" stroke-width="1.8"/>
<line x1="268.70" y1="535.7" x2="268.70" y2="538.7" stroke="#111" stroke-width="1.8"/>
<line x1="48.2" y1="404.40" x2="51.2" y2="404.40" stroke="#111" stroke-width="1.8"/>
<line x1="48.2" y1="448.17" x2="51.2" y2="448.17" stroke="#111" stroke-width="1.8"/>
<line x1="48.2" y1="491.93" x2="51.2" y2="491.93" stroke="#111" stroke-width="1.8"/>
<line x1="48.2" y1="535.70" x2="51.2" y2="535.70" stroke="#111" stroke-width="1.8"/>
<text x="42.20" y="407.10" font-size="9.5" text-anchor="end" font-weight="normal">1000</text>
<text x="42.20" y="450.87" font-size="9.5" text-anchor="end" font-weight="normal">100</text>
<text x="42.20" y="494.63" font-size="9.5" text-anchor="end" font-weight="normal">10</text>
<text x="42.20" y="538.40" font-size="9.5" text-anchor="end" font-weight="normal">1</text>
<text x="51.20" y="548.30" font-size="9.6" text-anchor="middle" font-weight="normal">0</text>
<text x="94.70" y="548.30" font-size="9.6" text-anchor="middle" font-weight="normal">500</text>
<text x="138.20" y="548.30" font-size="9.6" text-anchor="middle" font-weight="normal">1000</text>
<text x="181.70" y="548.30" font-size="9.6" text-anchor="middle" font-weight="normal">1500</text>
<text x="225.20" y="548.30" font-size="9.6" text-anchor="middle" font-weight="normal">2000</text>
<text x="268.70" y="548.30" font-size="9.6" text-anchor="middle" font-weight="normal">2500</text>
<text x="134.70" y="562.30" font-size="9.5" text-anchor="start" font-weight="bold" style="stroke-width:0">Time (Sec.)</text>
<text transform="translate(17.8,470) rotate(-90)" x="0" y="0" font-size="8.9" text-anchor="middle" style="stroke-width:0.45px">G’&amp;G” (Pa)</text>
<text x="57.65" y="416.80" font-size="9.3" text-anchor="start" font-weight="normal" textLength="31.69" lengthAdjust="spacingAndGlyphs">P3L1.1</text>
<circle cx="72.7" cy="526.3" r="2.0" fill="#fff" stroke="#00B0F0" stroke-width="1.1"/>
<text x="76.70" y="528.40" font-size="7.8" text-anchor="start" font-weight="normal" textLength="76" lengthAdjust="spacing" style="stroke-width:0.12px">Storage modulus  (G’)</text>
<circle cx="177.3" cy="526.3" r="2.5" fill="#00B0F0"/>
<text x="181.50" y="528.40" font-size="7.8" text-anchor="start" font-weight="normal" textLength="66.7" lengthAdjust="spacing" style="stroke-width:0.12px">Loss modulus  (G’’)</text>
<circle cx="320.38" cy="456.00" r="2.55" fill="#fff" stroke="#EA742B" stroke-width="0.9"/>
<circle cx="325.56" cy="451.60" r="2.55" fill="#fff" stroke="#EA742B" stroke-width="0.9"/>
<circle cx="330.74" cy="449.00" r="2.55" fill="#fff" stroke="#EA742B" stroke-width="0.9"/>
<circle cx="335.93" cy="447.00" r="2.55" fill="#fff" stroke="#EA742B" stroke-width="0.9"/>
<circle cx="341.11" cy="445.40" r="2.55" fill="#fff" stroke="#EA742B" stroke-width="0.9"/>
<circle cx="346.29" cy="444.00" r="2.55" fill="#fff" stroke="#EA742B" stroke-width="0.9"/>
<circle cx="351.47" cy="443.00" r="2.55" fill="#fff" stroke="#EA742B" stroke-width="0.9"/>
<circle cx="356.65" cy="444.00" r="2.55" fill="#fff" stroke="#EA742B" stroke-width="0.9"/>
<circle cx="361.83" cy="445.00" r="2.55" fill="#fff" stroke="#EA742B" stroke-width="0.9"/>
<circle cx="367.02" cy="443.00" r="2.55" fill="#fff" stroke="#EA742B" stroke-width="0.9"/>
<circle cx="372.20" cy="441.60" r="2.55" fill="#fff" stroke="#EA742B" stroke-width="0.9"/>
<circle cx="377.38" cy="441.00" r="2.55" fill="#fff" stroke="#EA742B" stroke-width="0.9"/>
<circle cx="382.56" cy="440.00" r="2.55" fill="#fff" stroke="#EA742B" stroke-width="0.9"/>
<circle cx="387.74" cy="438.40" r="2.55" fill="#fff" stroke="#EA742B" stroke-width="0.9"/>
<circle cx="392.92" cy="436.60" r="2.55" fill="#fff" stroke="#EA742B" stroke-width="0.9"/>
<circle cx="398.11" cy="434.60" r="2.55" fill="#fff" stroke="#EA742B" stroke-width="0.9"/>
<circle cx="403.29" cy="433.60" r="2.55" fill="#fff" stroke="#EA742B" stroke-width="0.9"/>
<circle cx="408.47" cy="432.40" r="2.55" fill="#fff" stroke="#EA742B" stroke-width="0.9"/>
<circle cx="413.65" cy="431.60" r="2.55" fill="#fff" stroke="#EA742B" stroke-width="0.9"/>
<circle cx="418.83" cy="430.60" r="2.55" fill="#fff" stroke="#EA742B" stroke-width="0.9"/>
<circle cx="424.01" cy="430.00" r="2.55" fill="#fff" stroke="#EA742B" stroke-width="0.9"/>
<circle cx="429.20" cy="429.60" r="2.55" fill="#fff" stroke="#EA742B" stroke-width="0.9"/>
<circle cx="434.38" cy="429.00" r="2.55" fill="#fff" stroke="#EA742B" stroke-width="0.9"/>
<circle cx="439.56" cy="429.40" r="2.55" fill="#fff" stroke="#EA742B" stroke-width="0.9"/>
<circle cx="444.74" cy="430.00" r="2.55" fill="#fff" stroke="#EA742B" stroke-width="0.9"/>
<circle cx="449.92" cy="431.00" r="2.55" fill="#fff" stroke="#EA742B" stroke-width="0.9"/>
<circle cx="455.10" cy="432.00" r="2.55" fill="#fff" stroke="#EA742B" stroke-width="0.9"/>
<circle cx="460.28" cy="433.00" r="2.55" fill="#fff" stroke="#EA742B" stroke-width="0.9"/>
<circle cx="465.47" cy="433.40" r="2.55" fill="#fff" stroke="#EA742B" stroke-width="0.9"/>
<circle cx="470.65" cy="433.60" r="2.55" fill="#fff" stroke="#EA742B" stroke-width="0.9"/>
<circle cx="475.83" cy="434.00" r="2.55" fill="#fff" stroke="#EA742B" stroke-width="0.9"/>
<circle cx="481.01" cy="434.00" r="2.55" fill="#fff" stroke="#EA742B" stroke-width="0.9"/>
<circle cx="486.19" cy="434.60" r="2.55" fill="#fff" stroke="#EA742B" stroke-width="0.9"/>
<circle cx="491.37" cy="434.40" r="2.55" fill="#fff" stroke="#EA742B" stroke-width="0.9"/>
<circle cx="496.56" cy="434.40" r="2.55" fill="#fff" stroke="#EA742B" stroke-width="0.9"/>
<circle cx="501.74" cy="435.00" r="2.55" fill="#fff" stroke="#EA742B" stroke-width="0.9"/>
<circle cx="320.38" cy="479.00" r="2.85" fill="#EA742B"/>
<circle cx="325.56" cy="481.60" r="2.85" fill="#EA742B"/>
<circle cx="330.74" cy="480.00" r="2.85" fill="#EA742B"/>
<circle cx="335.93" cy="479.00" r="2.85" fill="#EA742B"/>
<circle cx="341.11" cy="478.40" r="2.85" fill="#EA742B"/>
<circle cx="346.29" cy="476.60" r="2.85" fill="#EA742B"/>
<circle cx="351.47" cy="476.60" r="2.85" fill="#EA742B"/>
<circle cx="356.65" cy="476.00" r="2.85" fill="#EA742B"/>
<circle cx="361.83" cy="474.60" r="2.85" fill="#EA742B"/>
<circle cx="367.02" cy="472.40" r="2.85" fill="#EA742B"/>
<circle cx="372.20" cy="470.40" r="2.85" fill="#EA742B"/>
<circle cx="377.38" cy="467.60" r="2.85" fill="#EA742B"/>
<circle cx="382.56" cy="466.40" r="2.85" fill="#EA742B"/>
<circle cx="387.74" cy="465.00" r="2.85" fill="#EA742B"/>
<circle cx="392.92" cy="463.40" r="2.85" fill="#EA742B"/>
<circle cx="398.11" cy="462.00" r="2.85" fill="#EA742B"/>
<circle cx="403.29" cy="460.60" r="2.85" fill="#EA742B"/>
<circle cx="408.47" cy="459.00" r="2.85" fill="#EA742B"/>
<circle cx="413.65" cy="458.00" r="2.85" fill="#EA742B"/>
<circle cx="418.83" cy="457.40" r="2.85" fill="#EA742B"/>
<circle cx="424.01" cy="457.00" r="2.85" fill="#EA742B"/>
<circle cx="429.20" cy="455.60" r="2.85" fill="#EA742B"/>
<circle cx="434.38" cy="454.40" r="2.85" fill="#EA742B"/>
<circle cx="439.56" cy="454.60" r="2.85" fill="#EA742B"/>
<circle cx="444.74" cy="455.60" r="2.85" fill="#EA742B"/>
<circle cx="449.92" cy="456.40" r="2.85" fill="#EA742B"/>
<circle cx="455.10" cy="456.60" r="2.85" fill="#EA742B"/>
<circle cx="460.28" cy="457.00" r="2.85" fill="#EA742B"/>
<circle cx="465.47" cy="457.40" r="2.85" fill="#EA742B"/>
<circle cx="470.65" cy="458.40" r="2.85" fill="#EA742B"/>
<circle cx="475.83" cy="456.60" r="2.85" fill="#EA742B"/>
<circle cx="481.01" cy="457.00" r="2.85" fill="#EA742B"/>
<circle cx="486.19" cy="458.00" r="2.85" fill="#EA742B"/>
<circle cx="491.37" cy="457.40" r="2.85" fill="#EA742B"/>
<circle cx="496.56" cy="458.00" r="2.85" fill="#EA742B"/>
<circle cx="501.74" cy="457.60" r="2.85" fill="#EA742B"/>
<rect x="315.2" y="404.5" width="215.90" height="131.00" fill="none" stroke="#111" stroke-width="1.8"/>
<line x1="315.20" y1="535.5" x2="315.20" y2="538.5" stroke="#111" stroke-width="1.8"/>
<line x1="358.38" y1="535.5" x2="358.38" y2="538.5" stroke="#111" stroke-width="1.8"/>
<line x1="401.56" y1="535.5" x2="401.56" y2="538.5" stroke="#111" stroke-width="1.8"/>
<line x1="444.74" y1="535.5" x2="444.74" y2="538.5" stroke="#111" stroke-width="1.8"/>
<line x1="487.92" y1="535.5" x2="487.92" y2="538.5" stroke="#111" stroke-width="1.8"/>
<line x1="531.10" y1="535.5" x2="531.10" y2="538.5" stroke="#111" stroke-width="1.8"/>
<line x1="312.2" y1="404.50" x2="315.2" y2="404.50" stroke="#111" stroke-width="1.8"/>
<line x1="312.2" y1="448.17" x2="315.2" y2="448.17" stroke="#111" stroke-width="1.8"/>
<line x1="312.2" y1="491.83" x2="315.2" y2="491.83" stroke="#111" stroke-width="1.8"/>
<line x1="312.2" y1="535.50" x2="315.2" y2="535.50" stroke="#111" stroke-width="1.8"/>
<text x="306.20" y="407.20" font-size="9.5" text-anchor="end" font-weight="normal">1000</text>
<text x="306.20" y="450.87" font-size="9.5" text-anchor="end" font-weight="normal">100</text>
<text x="306.20" y="494.53" font-size="9.5" text-anchor="end" font-weight="normal">10</text>
<text x="306.20" y="538.20" font-size="9.5" text-anchor="end" font-weight="normal">1</text>
<text x="315.20" y="548.10" font-size="9.6" text-anchor="middle" font-weight="normal">0</text>
<text x="358.38" y="548.10" font-size="9.6" text-anchor="middle" font-weight="normal">500</text>
<text x="401.56" y="548.10" font-size="9.6" text-anchor="middle" font-weight="normal">1000</text>
<text x="444.74" y="548.10" font-size="9.6" text-anchor="middle" font-weight="normal">1500</text>
<text x="487.92" y="548.10" font-size="9.6" text-anchor="middle" font-weight="normal">2000</text>
<text x="531.10" y="548.10" font-size="9.6" text-anchor="middle" font-weight="normal">2500</text>
<text x="399.10" y="562.10" font-size="9.5" text-anchor="start" font-weight="bold" style="stroke-width:0">Time (Sec.)</text>
<text transform="translate(278.7,472.4) rotate(-90)" x="0" y="0" font-size="8.9" text-anchor="middle" style="stroke-width:0.45px">G’&amp;G” (Pa)</text>
<text x="321.85" y="417.40" font-size="9.3" text-anchor="start" font-weight="normal" textLength="93.38" lengthAdjust="spacingAndGlyphs">P3L1.1/L-Arg(0.2mg)</text>
<circle cx="337.4" cy="527.4" r="2.0" fill="#fff" stroke="#EA742B" stroke-width="1.1"/>
<text x="341.70" y="529.50" font-size="7.8" text-anchor="start" font-weight="normal" textLength="76" lengthAdjust="spacing" style="stroke-width:0.12px">Storage modulus  (G’)</text>
<circle cx="441.4" cy="527.4" r="2.5" fill="#EA742B"/>
<text x="445.90" y="529.50" font-size="7.8" text-anchor="start" font-weight="normal" textLength="67.3" lengthAdjust="spacing" style="stroke-width:0.12px">Loss modulus  (G’’)</text>
<circle cx="56.41" cy="621.00" r="2.55" fill="#fff" stroke="#DC55D4" stroke-width="0.9"/>
<circle cx="61.63" cy="620.00" r="2.55" fill="#fff" stroke="#DC55D4" stroke-width="0.9"/>
<circle cx="66.84" cy="618.40" r="2.55" fill="#fff" stroke="#DC55D4" stroke-width="0.9"/>
<circle cx="72.05" cy="616.40" r="2.55" fill="#fff" stroke="#DC55D4" stroke-width="0.9"/>
<circle cx="77.26" cy="615.00" r="2.55" fill="#fff" stroke="#DC55D4" stroke-width="0.9"/>
<circle cx="82.48" cy="613.60" r="2.55" fill="#fff" stroke="#DC55D4" stroke-width="0.9"/>
<circle cx="87.69" cy="612.40" r="2.55" fill="#fff" stroke="#DC55D4" stroke-width="0.9"/>
<circle cx="92.90" cy="611.60" r="2.55" fill="#fff" stroke="#DC55D4" stroke-width="0.9"/>
<circle cx="98.12" cy="611.00" r="2.55" fill="#fff" stroke="#DC55D4" stroke-width="0.9"/>
<circle cx="103.33" cy="610.60" r="2.55" fill="#fff" stroke="#DC55D4" stroke-width="0.9"/>
<circle cx="108.54" cy="610.40" r="2.55" fill="#fff" stroke="#DC55D4" stroke-width="0.9"/>
<circle cx="113.75" cy="610.40" r="2.55" fill="#fff" stroke="#DC55D4" stroke-width="0.9"/>
<circle cx="118.97" cy="611.40" r="2.55" fill="#fff" stroke="#DC55D4" stroke-width="0.9"/>
<circle cx="124.18" cy="613.00" r="2.55" fill="#fff" stroke="#DC55D4" stroke-width="0.9"/>
<circle cx="129.39" cy="614.40" r="2.55" fill="#fff" stroke="#DC55D4" stroke-width="0.9"/>
<circle cx="134.60" cy="615.40" r="2.55" fill="#fff" stroke="#DC55D4" stroke-width="0.9"/>
<circle cx="139.82" cy="617.00" r="2.55" fill="#fff" stroke="#DC55D4" stroke-width="0.9"/>
<circle cx="145.03" cy="619.20" r="2.55" fill="#fff" stroke="#DC55D4" stroke-width="0.9"/>
<circle cx="150.24" cy="620.40" r="2.55" fill="#fff" stroke="#DC55D4" stroke-width="0.9"/>
<circle cx="155.46" cy="620.40" r="2.55" fill="#fff" stroke="#DC55D4" stroke-width="0.9"/>
<circle cx="160.67" cy="620.00" r="2.55" fill="#fff" stroke="#DC55D4" stroke-width="0.9"/>
<circle cx="165.88" cy="621.40" r="2.55" fill="#fff" stroke="#DC55D4" stroke-width="0.9"/>
<circle cx="171.09" cy="620.40" r="2.55" fill="#fff" stroke="#DC55D4" stroke-width="0.9"/>
<circle cx="176.31" cy="619.60" r="2.55" fill="#fff" stroke="#DC55D4" stroke-width="0.9"/>
<circle cx="181.52" cy="619.00" r="2.55" fill="#fff" stroke="#DC55D4" stroke-width="0.9"/>
<circle cx="186.73" cy="618.40" r="2.55" fill="#fff" stroke="#DC55D4" stroke-width="0.9"/>
<circle cx="191.95" cy="617.60" r="2.55" fill="#fff" stroke="#DC55D4" stroke-width="0.9"/>
<circle cx="197.16" cy="617.00" r="2.55" fill="#fff" stroke="#DC55D4" stroke-width="0.9"/>
<circle cx="202.37" cy="616.60" r="2.55" fill="#fff" stroke="#DC55D4" stroke-width="0.9"/>
<circle cx="207.58" cy="615.60" r="2.55" fill="#fff" stroke="#DC55D4" stroke-width="0.9"/>
<circle cx="212.80" cy="615.60" r="2.55" fill="#fff" stroke="#DC55D4" stroke-width="0.9"/>
<circle cx="218.01" cy="615.60" r="2.55" fill="#fff" stroke="#DC55D4" stroke-width="0.9"/>
<circle cx="223.22" cy="616.00" r="2.55" fill="#fff" stroke="#DC55D4" stroke-width="0.9"/>
<circle cx="228.44" cy="616.00" r="2.55" fill="#fff" stroke="#DC55D4" stroke-width="0.9"/>
<circle cx="233.65" cy="616.40" r="2.55" fill="#fff" stroke="#DC55D4" stroke-width="0.9"/>
<circle cx="238.86" cy="616.00" r="2.55" fill="#fff" stroke="#DC55D4" stroke-width="0.9"/>
<circle cx="56.41" cy="647.00" r="2.85" fill="#DC55D4"/>
<circle cx="61.63" cy="649.60" r="2.85" fill="#DC55D4"/>
<circle cx="66.84" cy="650.00" r="2.85" fill="#DC55D4"/>
<circle cx="72.05" cy="649.00" r="2.85" fill="#DC55D4"/>
<circle cx="77.26" cy="648.40" r="2.85" fill="#DC55D4"/>
<circle cx="82.48" cy="647.60" r="2.85" fill="#DC55D4"/>
<circle cx="87.69" cy="647.00" r="2.85" fill="#DC55D4"/>
<circle cx="92.90" cy="646.60" r="2.85" fill="#DC55D4"/>
<circle cx="98.12" cy="645.60" r="2.85" fill="#DC55D4"/>
<circle cx="103.33" cy="645.60" r="2.85" fill="#DC55D4"/>
<circle cx="108.54" cy="644.60" r="2.85" fill="#DC55D4"/>
<circle cx="113.75" cy="644.40" r="2.85" fill="#DC55D4"/>
<circle cx="118.97" cy="644.00" r="2.85" fill="#DC55D4"/>
<circle cx="124.18" cy="644.40" r="2.85" fill="#DC55D4"/>
<circle cx="129.39" cy="644.40" r="2.85" fill="#DC55D4"/>
<circle cx="134.60" cy="644.40" r="2.85" fill="#DC55D4"/>
<circle cx="139.82" cy="645.00" r="2.85" fill="#DC55D4"/>
<circle cx="145.03" cy="646.60" r="2.85" fill="#DC55D4"/>
<circle cx="150.24" cy="648.00" r="2.85" fill="#DC55D4"/>
<circle cx="155.46" cy="648.00" r="2.85" fill="#DC55D4"/>
<circle cx="160.67" cy="648.40" r="2.85" fill="#DC55D4"/>
<circle cx="165.88" cy="648.40" r="2.85" fill="#DC55D4"/>
<circle cx="171.09" cy="647.60" r="2.85" fill="#DC55D4"/>
<circle cx="176.31" cy="646.60" r="2.85" fill="#DC55D4"/>
<circle cx="181.52" cy="646.60" r="2.85" fill="#DC55D4"/>
<circle cx="186.73" cy="646.60" r="2.85" fill="#DC55D4"/>
<circle cx="191.95" cy="646.60" r="2.85" fill="#DC55D4"/>
<circle cx="197.16" cy="646.00" r="2.85" fill="#DC55D4"/>
<circle cx="202.37" cy="645.60" r="2.85" fill="#DC55D4"/>
<circle cx="207.58" cy="645.00" r="2.85" fill="#DC55D4"/>
<circle cx="212.80" cy="645.40" r="2.85" fill="#DC55D4"/>
<circle cx="218.01" cy="645.60" r="2.85" fill="#DC55D4"/>
<circle cx="223.22" cy="646.00" r="2.85" fill="#DC55D4"/>
<circle cx="228.44" cy="646.00" r="2.85" fill="#DC55D4"/>
<circle cx="233.65" cy="646.60" r="2.85" fill="#DC55D4"/>
<circle cx="238.86" cy="646.40" r="2.85" fill="#DC55D4"/>
<rect x="51.2" y="571.8" width="217.20" height="130.00" fill="none" stroke="#111" stroke-width="1.8"/>
<line x1="51.20" y1="701.8" x2="51.20" y2="704.8" stroke="#111" stroke-width="1.8"/>
<line x1="94.64" y1="701.8" x2="94.64" y2="704.8" stroke="#111" stroke-width="1.8"/>
<line x1="138.08" y1="701.8" x2="138.08" y2="704.8" stroke="#111" stroke-width="1.8"/>
<line x1="181.52" y1="701.8" x2="181.52" y2="704.8" stroke="#111" stroke-width="1.8"/>
<line x1="224.96" y1="701.8" x2="224.96" y2="704.8" stroke="#111" stroke-width="1.8"/>
<line x1="268.40" y1="701.8" x2="268.40" y2="704.8" stroke="#111" stroke-width="1.8"/>
<line x1="48.2" y1="571.80" x2="51.2" y2="571.80" stroke="#111" stroke-width="1.8"/>
<line x1="48.2" y1="615.13" x2="51.2" y2="615.13" stroke="#111" stroke-width="1.8"/>
<line x1="48.2" y1="658.47" x2="51.2" y2="658.47" stroke="#111" stroke-width="1.8"/>
<line x1="48.2" y1="701.80" x2="51.2" y2="701.80" stroke="#111" stroke-width="1.8"/>
<text x="42.20" y="574.50" font-size="9.5" text-anchor="end" font-weight="normal">1000</text>
<text x="42.20" y="617.83" font-size="9.5" text-anchor="end" font-weight="normal">100</text>
<text x="42.20" y="661.17" font-size="9.5" text-anchor="end" font-weight="normal">10</text>
<text x="42.20" y="704.50" font-size="9.5" text-anchor="end" font-weight="normal">1</text>
<text x="51.20" y="714.40" font-size="9.6" text-anchor="middle" font-weight="normal">0</text>
<text x="94.64" y="714.40" font-size="9.6" text-anchor="middle" font-weight="normal">500</text>
<text x="138.08" y="714.40" font-size="9.6" text-anchor="middle" font-weight="normal">1000</text>
<text x="181.52" y="714.40" font-size="9.6" text-anchor="middle" font-weight="normal">1500</text>
<text x="224.96" y="714.40" font-size="9.6" text-anchor="middle" font-weight="normal">2000</text>
<text x="268.40" y="714.40" font-size="9.6" text-anchor="middle" font-weight="normal">2500</text>
<text x="134.20" y="728.40" font-size="9.5" text-anchor="start" font-weight="bold" style="stroke-width:0">Time (Sec.)</text>
<text transform="translate(18.2,636.7) rotate(-90)" x="0" y="0" font-size="8.9" text-anchor="middle" style="stroke-width:0.45px">G’&amp;G” (Pa)</text>
<text x="58.05" y="585.80" font-size="9.3" text-anchor="start" font-weight="normal" textLength="178.0" lengthAdjust="spacingAndGlyphs">P3L1.1/L-Arg(0.2mg)@NU-1000(0.2mg)</text>
<circle cx="72.7" cy="692.7" r="2.0" fill="#fff" stroke="#DC55D4" stroke-width="1.1"/>
<text x="76.70" y="694.80" font-size="7.8" text-anchor="start" font-weight="normal" textLength="76" lengthAdjust="spacing" style="stroke-width:0.12px">Storage modulus  (G’)</text>
<circle cx="177.3" cy="692.7" r="2.5" fill="#DC55D4"/>
<text x="181.50" y="694.80" font-size="7.8" text-anchor="start" font-weight="normal" textLength="66.7" lengthAdjust="spacing" style="stroke-width:0.12px">Loss modulus  (G’’)</text>
<circle cx="319.79" cy="616.40" r="2.55" fill="#fff" stroke="#FFB70A" stroke-width="0.9"/>
<circle cx="324.98" cy="616.40" r="2.55" fill="#fff" stroke="#FFB70A" stroke-width="0.9"/>
<circle cx="330.17" cy="621.40" r="2.55" fill="#fff" stroke="#FFB70A" stroke-width="0.9"/>
<circle cx="335.36" cy="621.00" r="2.55" fill="#fff" stroke="#FFB70A" stroke-width="0.9"/>
<circle cx="340.54" cy="618.60" r="2.55" fill="#fff" stroke="#FFB70A" stroke-width="0.9"/>
<circle cx="345.73" cy="616.60" r="2.55" fill="#fff" stroke="#FFB70A" stroke-width="0.9"/>
<circle cx="350.92" cy="614.60" r="2.55" fill="#fff" stroke="#FFB70A" stroke-width="0.9"/>
<circle cx="356.11" cy="613.40" r="2.55" fill="#fff" stroke="#FFB70A" stroke-width="0.9"/>
<circle cx="361.30" cy="612.40" r="2.55" fill="#fff" stroke="#FFB70A" stroke-width="0.9"/>
<circle cx="366.49" cy="611.60" r="2.55" fill="#fff" stroke="#FFB70A" stroke-width="0.9"/>
<circle cx="371.68" cy="611.00" r="2.55" fill="#fff" stroke="#FFB70A" stroke-width="0.9"/>
<circle cx="376.87" cy="610.00" r="2.55" fill="#fff" stroke="#FFB70A" stroke-width="0.9"/>
<circle cx="382.05" cy="609.40" r="2.55" fill="#fff" stroke="#FFB70A" stroke-width="0.9"/>
<circle cx="387.24" cy="608.00" r="2.55" fill="#fff" stroke="#FFB70A" stroke-width="0.9"/>
<circle cx="392.43" cy="606.40" r="2.55" fill="#fff" stroke="#FFB70A" stroke-width="0.9"/>
<circle cx="397.62" cy="604.00" r="2.55" fill="#fff" stroke="#FFB70A" stroke-width="0.9"/>
<circle cx="402.81" cy="602.40" r="2.55" fill="#fff" stroke="#FFB70A" stroke-width="0.9"/>
<circle cx="408.00" cy="601.00" r="2.55" fill="#fff" stroke="#FFB70A" stroke-width="0.9"/>
<circle cx="413.19" cy="599.60" r="2.55" fill="#fff" stroke="#FFB70A" stroke-width="0.9"/>
<circle cx="418.38" cy="598.00" r="2.55" fill="#fff" stroke="#FFB70A" stroke-width="0.9"/>
<circle cx="423.56" cy="596.40" r="2.55" fill="#fff" stroke="#FFB70A" stroke-width="0.9"/>
<circle cx="428.75" cy="595.40" r="2.55" fill="#fff" stroke="#FFB70A" stroke-width="0.9"/>
<circle cx="433.94" cy="594.60" r="2.55" fill="#fff" stroke="#FFB70A" stroke-width="0.9"/>
<circle cx="439.13" cy="594.40" r="2.55" fill="#fff" stroke="#FFB70A" stroke-width="0.9"/>
<circle cx="444.32" cy="594.40" r="2.55" fill="#fff" stroke="#FFB70A" stroke-width="0.9"/>
<circle cx="449.51" cy="594.40" r="2.55" fill="#fff" stroke="#FFB70A" stroke-width="0.9"/>
<circle cx="454.70" cy="594.60" r="2.55" fill="#fff" stroke="#FFB70A" stroke-width="0.9"/>
<circle cx="459.89" cy="594.60" r="2.55" fill="#fff" stroke="#FFB70A" stroke-width="0.9"/>
<circle cx="465.08" cy="595.00" r="2.55" fill="#fff" stroke="#FFB70A" stroke-width="0.9"/>
<circle cx="470.26" cy="595.40" r="2.55" fill="#fff" stroke="#FFB70A" stroke-width="0.9"/>
<circle cx="475.45" cy="596.00" r="2.55" fill="#fff" stroke="#FFB70A" stroke-width="0.9"/>
<circle cx="480.64" cy="596.60" r="2.55" fill="#fff" stroke="#FFB70A" stroke-width="0.9"/>
<circle cx="485.83" cy="597.40" r="2.55" fill="#fff" stroke="#FFB70A" stroke-width="0.9"/>
<circle cx="491.02" cy="598.00" r="2.55" fill="#fff" stroke="#FFB70A" stroke-width="0.9"/>
<circle cx="496.21" cy="599.00" r="2.55" fill="#fff" stroke="#FFB70A" stroke-width="0.9"/>
<circle cx="501.40" cy="600.40" r="2.55" fill="#fff" stroke="#FFB70A" stroke-width="0.9"/>
<circle cx="319.79" cy="639.60" r="2.85" fill="#FFB70A"/>
<circle cx="324.98" cy="641.00" r="2.85" fill="#FFB70A"/>
<circle cx="330.17" cy="645.60" r="2.85" fill="#FFB70A"/>
<circle cx="335.36" cy="649.00" r="2.85" fill="#FFB70A"/>
<circle cx="340.54" cy="648.40" r="2.85" fill="#FFB70A"/>
<circle cx="345.73" cy="648.00" r="2.85" fill="#FFB70A"/>
<circle cx="350.92" cy="646.60" r="2.85" fill="#FFB70A"/>
<circle cx="356.11" cy="645.00" r="2.85" fill="#FFB70A"/>
<circle cx="361.30" cy="644.00" r="2.85" fill="#FFB70A"/>
<circle cx="366.49" cy="642.40" r="2.85" fill="#FFB70A"/>
<circle cx="371.68" cy="641.60" r="2.85" fill="#FFB70A"/>
<circle cx="376.87" cy="640.40" r="2.85" fill="#FFB70A"/>
<circle cx="382.05" cy="638.60" r="2.85" fill="#FFB70A"/>
<circle cx="387.24" cy="637.00" r="2.85" fill="#FFB70A"/>
<circle cx="392.43" cy="634.00" r="2.85" fill="#FFB70A"/>
<circle cx="397.62" cy="631.40" r="2.85" fill="#FFB70A"/>
<circle cx="402.81" cy="630.00" r="2.85" fill="#FFB70A"/>
<circle cx="408.00" cy="628.60" r="2.85" fill="#FFB70A"/>
<circle cx="413.19" cy="626.40" r="2.85" fill="#FFB70A"/>
<circle cx="418.38" cy="625.60" r="2.85" fill="#FFB70A"/>
<circle cx="423.56" cy="624.60" r="2.85" fill="#FFB70A"/>
<circle cx="428.75" cy="623.40" r="2.85" fill="#FFB70A"/>
<circle cx="433.94" cy="622.40" r="2.85" fill="#FFB70A"/>
<circle cx="439.13" cy="621.00" r="2.85" fill="#FFB70A"/>
<circle cx="444.32" cy="621.00" r="2.85" fill="#FFB70A"/>
<circle cx="449.51" cy="621.00" r="2.85" fill="#FFB70A"/>
<circle cx="454.70" cy="620.60" r="2.85" fill="#FFB70A"/>
<circle cx="459.89" cy="619.60" r="2.85" fill="#FFB70A"/>
<circle cx="465.08" cy="618.60" r="2.85" fill="#FFB70A"/>
<circle cx="470.26" cy="618.00" r="2.85" fill="#FFB70A"/>
<circle cx="475.45" cy="618.60" r="2.85" fill="#FFB70A"/>
<circle cx="480.64" cy="619.60" r="2.85" fill="#FFB70A"/>
<circle cx="485.83" cy="620.00" r="2.85" fill="#FFB70A"/>
<circle cx="491.02" cy="620.00" r="2.85" fill="#FFB70A"/>
<circle cx="496.21" cy="620.00" r="2.85" fill="#FFB70A"/>
<circle cx="501.40" cy="620.60" r="2.85" fill="#FFB70A"/>
<rect x="314.6" y="573.4" width="216.20" height="130.10" fill="none" stroke="#111" stroke-width="1.8"/>
<line x1="314.60" y1="703.5" x2="314.60" y2="706.5" stroke="#111" stroke-width="1.8"/>
<line x1="357.84" y1="703.5" x2="357.84" y2="706.5" stroke="#111" stroke-width="1.8"/>
<line x1="401.08" y1="703.5" x2="401.08" y2="706.5" stroke="#111" stroke-width="1.8"/>
<line x1="444.32" y1="703.5" x2="444.32" y2="706.5" stroke="#111" stroke-width="1.8"/>
<line x1="487.56" y1="703.5" x2="487.56" y2="706.5" stroke="#111" stroke-width="1.8"/>
<line x1="530.80" y1="703.5" x2="530.80" y2="706.5" stroke="#111" stroke-width="1.8"/>
<line x1="311.6" y1="573.40" x2="314.6" y2="573.40" stroke="#111" stroke-width="1.8"/>
<line x1="311.6" y1="616.77" x2="314.6" y2="616.77" stroke="#111" stroke-width="1.8"/>
<line x1="311.6" y1="660.13" x2="314.6" y2="660.13" stroke="#111" stroke-width="1.8"/>
<line x1="311.6" y1="703.50" x2="314.6" y2="703.50" stroke="#111" stroke-width="1.8"/>
<text x="305.60" y="576.10" font-size="9.5" text-anchor="end" font-weight="normal">1000</text>
<text x="305.60" y="619.47" font-size="9.5" text-anchor="end" font-weight="normal">100</text>
<text x="305.60" y="662.83" font-size="9.5" text-anchor="end" font-weight="normal">10</text>
<text x="305.60" y="706.20" font-size="9.5" text-anchor="end" font-weight="normal">1</text>
<text x="314.60" y="717.30" font-size="9.6" text-anchor="middle" font-weight="normal">0</text>
<text x="357.84" y="717.30" font-size="9.6" text-anchor="middle" font-weight="normal">500</text>
<text x="401.08" y="717.30" font-size="9.6" text-anchor="middle" font-weight="normal">1000</text>
<text x="444.32" y="717.30" font-size="9.6" text-anchor="middle" font-weight="normal">1500</text>
<text x="487.56" y="717.30" font-size="9.6" text-anchor="middle" font-weight="normal">2000</text>
<text x="530.80" y="717.30" font-size="9.6" text-anchor="middle" font-weight="normal">2500</text>
<text x="399.10" y="730.10" font-size="9.5" text-anchor="start" font-weight="bold" style="stroke-width:0">Time (Sec.)</text>
<text transform="translate(279.4,639) rotate(-90)" x="0" y="0" font-size="8.9" text-anchor="middle" style="stroke-width:0.45px">G’&amp;G” (Pa)</text>
<text x="321.25" y="586.90" font-size="9.3" text-anchor="start" font-weight="normal" textLength="178.0" lengthAdjust="spacingAndGlyphs">P3L1.1/L-Arg(0.6mg)@NU-1000(0.5mg)</text>
<circle cx="337.4" cy="694.2" r="2.0" fill="#fff" stroke="#FFB70A" stroke-width="1.1"/>
<text x="341.40" y="696.30" font-size="7.8" text-anchor="start" font-weight="normal" textLength="76.3" lengthAdjust="spacing" style="stroke-width:0.12px">Storage modulus  (G’)</text>
<circle cx="441.4" cy="694.2" r="2.5" fill="#FFB70A"/>
<text x="445.40" y="696.30" font-size="7.8" text-anchor="start" font-weight="normal" textLength="67" lengthAdjust="spacing" style="stroke-width:0.12px">Loss modulus  (G’’)</text>
<text x="5.30" y="13.40" font-size="11.2" text-anchor="start" font-weight="normal" textLength="16.4" lengthAdjust="spacingAndGlyphs">(A)</text>
<text x="9.20" y="395.80" font-size="11.2" text-anchor="start" font-weight="normal" textLength="16.4" lengthAdjust="spacingAndGlyphs">(B)</text>
</g>
</svg>
</body></html>
